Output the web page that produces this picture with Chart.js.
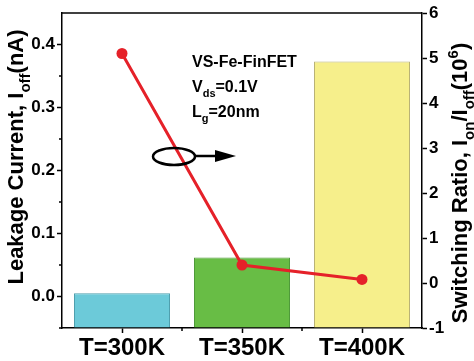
<!DOCTYPE html>
<html>
<head>
<meta charset="utf-8">
<script src="https://cdn.jsdelivr.net/npm/chart.js@4.4.1/dist/chart.umd.min.js"></script>
<style>
  html, body { margin: 0; padding: 0; background: #fff; }
  #wrap { width: 474px; height: 361px; }
</style>
</head>
<body>
<div id="wrap"><canvas id="chart" width="474" height="361"></canvas></div>
<script>
// data
var categories = ["T=300K", "T=350K", "T=400K"];
var leakage = [0.005, 0.062, 0.373];      // nA, left axis (bars)
var ratio = [5.1, 0.4, 0.08];             // x10^6, right axis (red line)
var barColors = ["#6ccad9", "#68bd45", "#f6ef8b"];
var barBorders = ["#4f9fae", "#4f9a3a", "#b9b276"];

var FONT = "'Liberation Sans', Arial, sans-serif";

// draws text with sub/superscripts, parts = [[text, mode], ...]
function richText(ctx, parts, x, y, size, align) {
  var big = "bold " + size + "px " + FONT;
  var small = "bold " + Math.round(size * 0.68) + "px " + FONT;
  var total = 0;
  parts.forEach(function (p) {
    ctx.font = p[1] === "n" ? big : small;
    p.w = ctx.measureText(p[0]).width;
    total += p.w;
  });
  var cx = align === "center" ? x - total / 2 : x;
  ctx.textAlign = "left";
  ctx.textBaseline = "alphabetic";
  parts.forEach(function (p) {
    ctx.font = p[1] === "n" ? big : small;
    var dy = 0;
    if (p[1] === "sub") dy = size * 0.3;
    if (p[1] === "sup") dy = -size * 0.42;
    ctx.fillText(p[0], cx, y + dy);
    cx += p.w;
  });
}

// major ticks only get the long mark, minor ones are drawn short by the plugin
function majorTickColor(c) {
  return c.tick && c.tick.label === "" ? "rgba(0,0,0,0)" : "#000";
}

var extras = {
  id: "extras",
  afterDraw: function (chart) {
    var ctx = chart.ctx;
    var a = chart.chartArea;
    ctx.save();
    // top frame line
    ctx.strokeStyle = "#000";
    ctx.lineWidth = 1.5;
    ctx.beginPath();
    ctx.moveTo(a.left, a.top);
    ctx.lineTo(a.right, a.top);
    ctx.stroke();

    // short minor ticks
    ctx.beginPath();
    chart.scales.y.ticks.forEach(function (t) {
      if (t.label !== "") return;
      var py = chart.scales.y.getPixelForValue(t.value);
      if (py < a.top + 1) return;
      ctx.moveTo(a.left, py);
      ctx.lineTo(a.left - 3, py);
    });
    chart.scales.y1.ticks.forEach(function (t) {
      if (t.label !== "") return;
      var py = chart.scales.y1.getPixelForValue(t.value);
      ctx.moveTo(a.right, py);
      ctx.lineTo(a.right + 3, py);
    });
    var xs = chart.scales.x;
    for (var i = 0; i < categories.length - 1; i++) {
      var px = (xs.getPixelForValue(i) + xs.getPixelForValue(i + 1)) / 2;
      ctx.moveTo(px, a.bottom);
      ctx.lineTo(px, a.bottom + 3);
    }
    ctx.stroke();

    ctx.fillStyle = "#000";
    // left title
    ctx.save();
    ctx.translate(23, 157);
    ctx.rotate(-Math.PI / 2);
    richText(ctx, [["Leakage Current, I", "n"], ["off", "sub"], ["(nA)", "n"]], 0, 0, 22, "center");
    ctx.restore();
    // right title
    ctx.save();
    ctx.translate(467, 183);
    ctx.rotate(-Math.PI / 2);
    richText(ctx, [["Switching Ratio, I", "n"], ["on", "sub"], ["/I", "n"], ["off", "sub"], ["(10", "n"], ["6", "sup"], [")", "n"]], 0, 0, 22, "center");
    ctx.restore();

    // annotation
    richText(ctx, [["VS-Fe-FinFET", "n"]], 192, 67, 16, "left");
    richText(ctx, [["V", "n"], ["ds", "sub"], ["=0.1V", "n"]], 192, 92, 16, "left");
    richText(ctx, [["L", "n"], ["g", "sub"], ["=20nm", "n"]], 192, 117, 16, "left");

    // ellipse + arrow pointing to right axis
    ctx.lineWidth = 2.5;
    ctx.beginPath();
    ctx.ellipse(174, 156.5, 21, 8.5, 0, 0, Math.PI * 2);
    ctx.stroke();
    ctx.beginPath();
    ctx.moveTo(195, 156);
    ctx.lineTo(218, 156);
    ctx.stroke();
    ctx.beginPath();
    ctx.moveTo(236, 156);
    ctx.lineTo(215, 150);
    ctx.lineTo(215, 162);
    ctx.closePath();
    ctx.fill();
    ctx.restore();
  }
};

var ctx = document.getElementById("chart").getContext("2d");
var chart = new Chart(ctx, {
  data: {
    labels: categories,
    datasets: [
      {
        type: "line",
        data: ratio,
        yAxisID: "y1",
        borderColor: "#e52129",
        backgroundColor: "#e52129",
        borderWidth: 3,
        pointRadius: 5.5,
        pointBackgroundColor: "#e52129",
        pointBorderWidth: 0,
        order: 0
      },
      {
        type: "bar",
        data: leakage,
        yAxisID: "y",
        base: -0.05,
        backgroundColor: barColors,
        borderColor: barBorders,
        borderWidth: 1,
        categoryPercentage: 1,
        barPercentage: 0.8,
        order: 1
      }
    ]
  },
  options: {
    responsive: false,
    animation: false,
    layout: { padding: { top: 13, left: 0, right: 0, bottom: 0 } },
    plugins: { legend: { display: false }, tooltip: { enabled: false } },
    scales: {
      x: {
        offset: true,
        grid: { drawOnChartArea: false, offset: false, tickLength: 5, color: "#000", tickWidth: 1.5 },
        border: { color: "#000", width: 1.5 },
        ticks: { color: "#000", font: { family: FONT, size: 24, weight: "bold" }, padding: 1 },
        afterFit: function (s) { s.height = 33; }
      },
      y: {
        position: "left",
        min: -0.05,
        max: 0.45,
        grid: { drawOnChartArea: false, tickLength: 5, color: "#000", tickColor: majorTickColor, tickWidth: 1.5 },
        border: { color: "#000", width: 1.5 },
        ticks: {
          stepSize: 0.05,
          color: "#000",
          padding: 2,
          font: { family: FONT, size: 17, weight: "bold" },
          callback: function (v) {
            var r = Math.round(v * 100);
            return (r % 10 === 0 && r >= 0 && r <= 40) ? (r / 100).toFixed(1) : "";
          }
        },
        afterFit: function (s) { s.width = 62; }
      },
      y1: {
        position: "right",
        min: -1,
        max: 6,
        grid: { drawOnChartArea: false, tickLength: 5, color: "#000", tickColor: majorTickColor, tickWidth: 1.5 },
        border: { color: "#000", width: 1.5 },
        ticks: {
          stepSize: 0.5,
          color: "#000",
          padding: 2,
          font: { family: FONT, size: 17, weight: "bold" },
          callback: function (v) {
            return Number.isInteger(v) ? String(v) : "";
          }
        },
        afterFit: function (s) { s.width = 52; }
      }
    }
  },
  plugins: [extras]
});
</script>
</body>
</html>
